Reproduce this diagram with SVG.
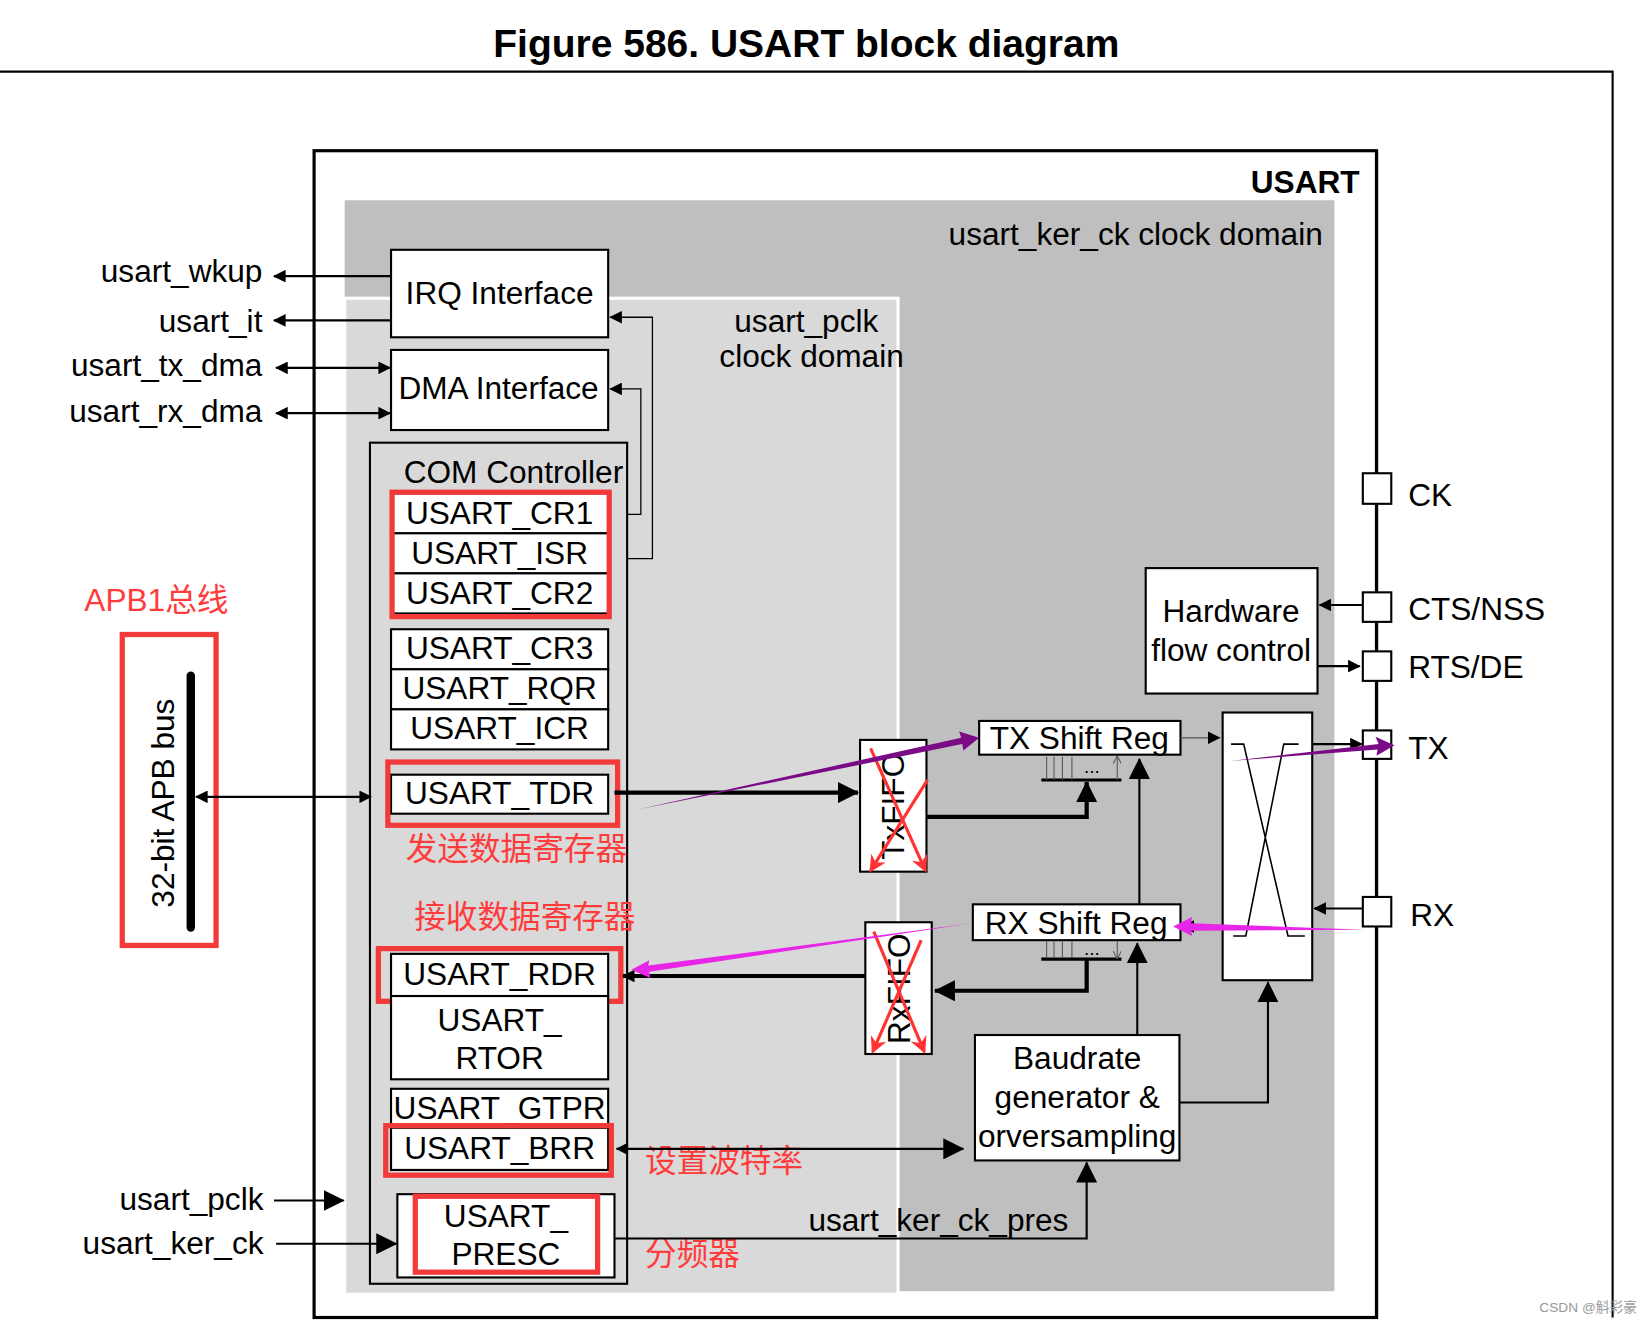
<svg xmlns="http://www.w3.org/2000/svg" width="1652" height="1323" viewBox="0 0 1652 1323">
<style>
text{font-family:"Liberation Sans",Arial,"Noto Sans CJK SC",sans-serif;fill:#000}
.t{font-size:30px}
.c{text-anchor:middle}
.r{text-anchor:end}
.cn{font-size:30px;fill:#ff3b3b}
.box{fill:#fff;stroke:#000;stroke-width:2}
.red{fill:none;stroke:#f23a3a;stroke-width:5}
.ln{fill:none;stroke:#000;stroke-width:2}
.thk{fill:none;stroke:#000;stroke-width:4}
.x{stroke:#f33;stroke-width:3;fill:none}
</style>
<defs>
<marker id="a" markerWidth="12" markerHeight="12" refX="11" refY="6" orient="auto-start-reverse" markerUnits="userSpaceOnUse"><path d="M0,0L12,6L0,12Z"/></marker>
<marker id="ab" markerWidth="20" markerHeight="20" refX="19" refY="10" orient="auto-start-reverse" markerUnits="userSpaceOnUse"><path d="M0,0L20,10L0,20Z"/></marker>
<marker id="as" markerWidth="8" markerHeight="8" refX="7" refY="4" orient="auto" markerUnits="userSpaceOnUse"><path d="M0,0L8,4L0,8" fill="none" stroke="#555" stroke-width="1"/></marker>
<marker id="ar" markerWidth="16" markerHeight="16" refX="14" refY="8" orient="auto" markerUnits="userSpaceOnUse"><path d="M0,0L16,8L0,16L5,8Z" fill="#f33"/></marker>
</defs>
<rect width="1652" height="1323" fill="#fff"/>
<g transform="scale(1.054)">
<text x="765" y="54" class="c" style="font-size:37px;font-weight:bold">Figure 586. USART block diagram</text>
<path d="M0,68H1530V1250" class="ln"/>
<g id="usart">
<rect x="298" y="143" width="1008" height="1107" fill="#fff" stroke="#000" stroke-width="3"/>
<text x="1290" y="183" class="r" style="font-size:30px;font-weight:bold">USART</text>
<rect x="327" y="190" width="939" height="1035" fill="#bfbfbf"/>
<rect x="327" y="283" width="525" height="945" fill="#d9d9d9" stroke="#fff" stroke-width="3"/>
<text x="1255" y="232" class="t r">usart_ker_ck  clock domain</text>
<text x="765" y="315" class="t c">usart_pclk</text>
<text x="770" y="348" class="t c">clock domain</text>
</g>
<g id="irq"><rect x="371" y="237" width="206" height="83" class="box"/><text x="474" y="288" class="t c">IRQ Interface</text></g>
<g id="dma"><rect x="371" y="332" width="206" height="76" class="box"/><text x="473" y="379" class="t c">DMA Interface</text></g>
<g id="com">
<rect x="351" y="420" width="244" height="798" fill="#d9d9d9" stroke="#000" stroke-width="2"/>
<text x="383" y="458" class="t">COM Controller</text>
</g>
<g id="regs">
<rect x="371" y="468" width="206" height="38" class="box"/><text x="474" y="497" class="t c">USART_CR1</text>
<rect x="371" y="506" width="206" height="38" class="box"/><text x="474" y="535" class="t c">USART_ISR</text>
<rect x="371" y="544" width="206" height="38" class="box"/><text x="474" y="573" class="t c">USART_CR2</text>
<rect x="372" y="467" width="206" height="118" class="red"/>
<rect x="371" y="597" width="206" height="38" class="box"/><text x="474" y="625" class="t c">USART_CR3</text>
<rect x="371" y="635" width="206" height="38" class="box"/><text x="474" y="663" class="t c">USART_RQR</text>
<rect x="371" y="673" width="206" height="38" class="box"/><text x="474" y="701" class="t c">USART_ICR</text>
</g>
<g id="tdr"><rect x="371" y="735" width="206" height="37" class="box"/><text x="474" y="763" class="t c">USART_TDR</text><rect x="368" y="723" width="218" height="60" class="red"/></g>
<g id="rdr"><rect x="371" y="905" width="206" height="40" class="box"/><text x="474" y="935" class="t c">USART_RDR</text><rect x="359" y="900" width="230" height="50" class="red"/></g>
<g id="rtor"><rect x="371" y="945" width="206" height="79" class="box"/><text x="474" y="978" class="t c">USART_</text><text x="474" y="1014" class="t c">RTOR</text></g>
<g id="gtpr"><rect x="371" y="1033" width="206" height="37" class="box"/><text x="474" y="1062" class="t c">USART_GTPR</text></g>
<g id="brr"><rect x="371" y="1070" width="206" height="40" class="box"/><text x="474" y="1100" class="t c">USART_BRR</text><rect x="366" y="1068" width="214" height="47" class="red"/></g>
<g id="presc"><rect x="377" y="1133" width="206" height="79" class="box"/><text x="480" y="1164" class="t c">USART_</text><text x="480" y="1200" class="t c">PRESC</text><rect x="394" y="1135" width="173" height="72" class="red"/></g>
<g id="apb">
<line x1="181" y1="641" x2="181" y2="880" stroke="#000" stroke-width="8" stroke-linecap="round"/>
<text transform="translate(165,762) rotate(-90)" class="t c">32-bit APB bus</text>
<rect x="116" y="602" width="89" height="295" class="red"/>
<text x="80" y="580" class="cn">APB1总线</text>
</g>
<g id="txfifo"><rect x="816" y="702" width="63" height="125" class="box"/><text transform="translate(858,765) rotate(-90)" class="t c">TxFIFO</text></g>
<g id="rxfifo"><rect x="821" y="875" width="63" height="125" class="box"/><text transform="translate(863,938) rotate(-90)" class="t c">RxFIFO</text></g>
<g id="txsr"><rect x="929" y="684" width="191" height="32" class="box"/><text x="1024" y="711" class="t c">TX Shift Reg</text></g>
<g id="rxsr"><rect x="923" y="858" width="197" height="34" class="box"/><text x="1021" y="886" class="t c">RX Shift Reg</text></g>
<g id="xbar"><rect x="1160" y="676" width="85" height="254" class="box"/><path d="M1168,706H1180L1222,888H1238M1232,706H1218L1182,888H1170" fill="none" stroke="#000" stroke-width="1.5"/></g>
<g id="hfc"><rect x="1087" y="539" width="163" height="119" class="box"/><text x="1168" y="590" class="t c">Hardware</text><text x="1168" y="627" class="t c">flow control</text></g>
<g id="baud"><rect x="925" y="982" width="194" height="119" class="box"/><text x="1022" y="1014" class="t c">Baudrate</text><text x="1022" y="1051" class="t c">generator &amp;</text><text x="1022" y="1088" class="t c">orversampling</text></g>
<g id="ports">
<line x1="1306" y1="143" x2="1306" y2="1250" stroke="#000" stroke-width="3"/>
<rect x="1293" y="449" width="27" height="29" class="box"/>
<rect x="1293" y="562" width="27" height="28" class="box"/>
<rect x="1293" y="618" width="27" height="28" class="box"/>
<rect x="1293" y="693" width="27" height="27" class="box"/>
<rect x="1293" y="851" width="27" height="28" class="box"/>
<text x="1336" y="480" class="t">CK</text>
<text x="1336" y="588" class="t">CTS/NSS</text>
<text x="1336" y="643" class="t">RTS/DE</text>
<text x="1336" y="720" class="t">TX</text>
<text x="1338" y="879" class="t">RX</text>
</g>
<g id="labels">
<text x="249" y="268" class="t r">usart_wkup</text>
<text x="249" y="315" class="t r">usart_it</text>
<text x="249" y="357" class="t r">usart_tx_dma</text>
<text x="249" y="400" class="t r">usart_rx_dma</text>
<text x="250" y="1148" class="t r">usart_pclk</text>
<text x="250" y="1190" class="t r">usart_ker_ck</text>
<text x="767" y="1168" class="t">usart_ker_ck_pres</text>
<text x="385" y="816" class="cn">发送数据寄存器</text>
<text x="393" y="880" class="cn">接收数据寄存器</text>
<text x="612" y="1112" class="cn">设置波特率</text>
<text x="612" y="1200" class="cn">分频器</text>
<text x="1553" y="1245" style="font-size:13px;fill:#999" text-anchor="end">CSDN @斛彩豪</text>
</g>
<g id="connectors">
<path d="M371,262H260" class="ln" marker-end="url(#a)"/>
<path d="M371,304H260" class="ln" marker-end="url(#a)"/>
<path d="M262,349H370" class="ln" marker-start="url(#a)" marker-end="url(#a)"/>
<path d="M262,392H370" class="ln" marker-start="url(#a)" marker-end="url(#a)"/>
<path d="M595,488H608V369H579" fill="none" stroke="#000" stroke-width="1.2" marker-end="url(#a)"/>
<path d="M595,530H619V301H579" fill="none" stroke="#000" stroke-width="1.2" marker-end="url(#a)"/>
<path d="M186,756H352" class="ln" marker-start="url(#a)" marker-end="url(#a)"/>
<path d="M583,752H814" class="thk" marker-end="url(#ab)"/>
<path d="M879,775H1031V742" class="thk" marker-end="url(#ab)"/>
<line x1="988" y1="740" x2="1064" y2="740" stroke="#000" stroke-width="3"/>
<path d="M993,740V718M1000,740V718M1008,740V718M1017,740V718M1060,740V718" fill="none" stroke="#555" stroke-width="1" marker-end="url(#as)"/>
<text x="1036" y="733" class="c" style="font-size:18px">...</text>
<path d="M1120,700H1157" fill="none" stroke="#555" stroke-width="1.2" marker-end="url(#a)"/>
<path d="M1245,706H1292" class="ln" marker-end="url(#a)"/>
<path d="M1293,574H1252" class="ln" marker-end="url(#a)"/>
<path d="M1250,632H1290" class="ln" marker-end="url(#a)"/>
<path d="M1293,862H1247" class="ln" marker-end="url(#a)"/>
<path d="M1160,879H1122" fill="none" stroke="#555" stroke-width="1.2" marker-end="url(#a)"/>
<line x1="988" y1="910" x2="1064" y2="910" stroke="#000" stroke-width="3"/>
<path d="M993,893V909M1000,893V909M1008,893V909M1017,893V909M1060,893V909" fill="none" stroke="#555" stroke-width="1" marker-end="url(#as)"/>
<text x="1036" y="906" class="c" style="font-size:18px">...</text>
<path d="M1031,910V940H887" class="thk" marker-end="url(#ab)"/>
<path d="M821,926H591" class="thk" marker-end="url(#a)"/>
<path d="M1081,858V720" class="ln" marker-end="url(#ab)"/>
<path d="M1079,982V895" class="ln" marker-end="url(#ab)"/>
<path d="M1119,1046H1203V932" class="ln" marker-end="url(#ab)"/>
<path d="M585,1090H914" class="ln" marker-start="url(#a)" marker-end="url(#ab)"/>
<path d="M260,1139H326" class="ln" marker-end="url(#ab)"/>
<path d="M262,1180H376" class="ln" marker-end="url(#ab)"/>
<path d="M583,1175H1031V1103" class="ln" marker-end="url(#ab)"/>
</g>
<g id="annotations">
<path d="M826,710L878,826" class="x" marker-end="url(#ar)"/>
<path d="M880,740L826,826" class="x" marker-end="url(#ar)"/>
<path d="M829,884L877,998" class="x" marker-end="url(#ar)"/>
<path d="M874,892L828,998" class="x" marker-end="url(#ar)"/>
<path d="M605,768L912,700L910,694L929,700L914,712L913,706Z" fill="#7a0a85"/>
<path d="M1167,722L1308,706L1305,699L1323,707L1306,717L1307,711Z" fill="#7a0a85"/>
<path d="M922,876L615,916L616,911L599,920L617,928L616,922Z" fill="#e826e8"/>
<path d="M1295,882L1130,876L1131,870L1113,879L1131,888L1130,883Z" fill="#e826e8"/>
</g>
</g>
</svg>
